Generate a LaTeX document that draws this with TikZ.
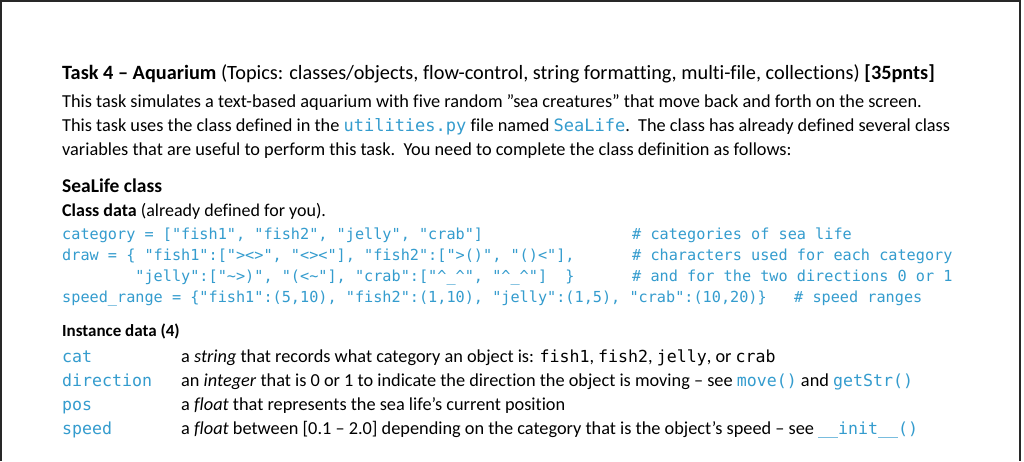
\documentclass[tikz,border=0pt]{standalone}
\usepackage{fontspec}
\setmainfont{Carlito}[Ligatures={NoCommon}]
\newfontfamily\cmono{DejaVu Sans Mono}
\definecolor{codeblue}{RGB}{52,156,206}
\definecolor{frame}{RGB}{40,40,40}
\newcommand{\cd}[1]{{\cmono\color{codeblue}#1}}
\newcommand{\q}{\char"22\relax}
\begin{document}
\begin{tikzpicture}[x=1pt,y=-1pt,
  txt/.style={anchor=base west,inner sep=0pt,font=\fontsize{18.3}{20}\selectfont},
  code/.style={anchor=base west,inner sep=0pt,text=codeblue,font=\fontsize{15.2}{18}\cmono}]
\useasboundingbox (0,0) rectangle (1024,461);
\fill[white] (0,0) rectangle (1024,461);
\draw[frame,line width=2] (1,461) -- (1,1) -- (1020,1) -- (1020,461);
\node[txt,font=\fontsize{20.3}{22}\selectfont] (t0) at (62,79) {\textbf{Task 4 -- Aquarium} (Topics: classes/objects, flow-control, string formatting, multi-file, collections) \textbf{[35pnts]}};
\node[txt] (t1) at (62,107) {This task simulates a text-based aquarium with five random \q sea creatures\q{} that move back and forth on the screen.};
\node[txt] (t2) at (62,131) {This task uses the class defined in the {\fontsize{17}{20}\cd{utilities.py}} file named {\fontsize{17}{20}\cd{SeaLife}}.\ \ The class has already defined several class};
\node[txt] (t3) at (62,155) {variables that are useful to perform this task.\ \ You need to complete the class definition as follows:};
\node[txt,font=\fontsize{19.5}{22}\selectfont\bfseries] (h1) at (62,192) {SeaLife class};
\node[txt,font=\fontsize{18}{20}\selectfont] (h2) at (62,216) {\textbf{Class data} (already defined for you).};
\node[code] (c1) at (62,239) {category = ["fish1", "fish2", "jelly", "crab"]};
\node[code] (c2) at (62,260) {draw = \{ "fish1":["><>", "<><"], "fish2":[">()", "()<"],};
\node[code] (c3) at (62,281) {\ \ \ \ \ \ \ \ "jelly":["\char`~>)", "(<\char`~"], "crab":["\char`^\char`_\char`^", "\char`^\char`_\char`^"]\ \ \}};
\node[code] (c4) at (62,302) {speed\char`_range = \{"fish1":(5,10), "fish2":(1,10), "jelly":(1,5), "crab":(10,20)\}\ \ \ \# speed ranges};
\node[code] (m1) at (632,239) {\# categories of sea life};
\node[code] (m2) at (632,260) {\# characters used for each category};
\node[code] (m3) at (632,281) {\# and for the two directions 0 or 1};
\node[txt,font=\fontsize{17}{20}\selectfont\bfseries] (h3) at (62,336) {Instance data (4)};
\node[code,font=\fontsize{16.6}{20}\cmono] (i1) at (62,362) {cat};
\node[code,font=\fontsize{16.6}{20}\cmono] (i2) at (62,386) {direction};
\node[code,font=\fontsize{16.6}{20}\cmono] (i3) at (62,410) {pos};
\node[code,font=\fontsize{16.6}{20}\cmono] (i4) at (62,434) {speed};
\node[txt] (d1) at (181,362) {a \textit{string} that records what category an object is: {\fontsize{16.6}{20}\cmono fish1}, {\fontsize{16.6}{20}\cmono fish2}, {\fontsize{16.6}{20}\cmono jelly}, or {\fontsize{16.6}{20}\cmono crab}};
\node[txt] (d2) at (181,386) {an \textit{integer} that is 0 or 1 to indicate the direction the object is moving -- see {\fontsize{16.6}{20}\cd{move()}} and {\fontsize{16.6}{20}\cd{getStr()}}};
\node[txt] (d3) at (181,410) {a \textit{float} that represents the sea life's current position};
\node[txt] (d4) at (181,434) {a \textit{float} between [0.1 -- 2.0] depending on the category that is the object's speed -- see {\fontsize{16.6}{20}\cd{\char`_\char`_init\char`_\char`_()}}};
\end{tikzpicture}
\end{document}
